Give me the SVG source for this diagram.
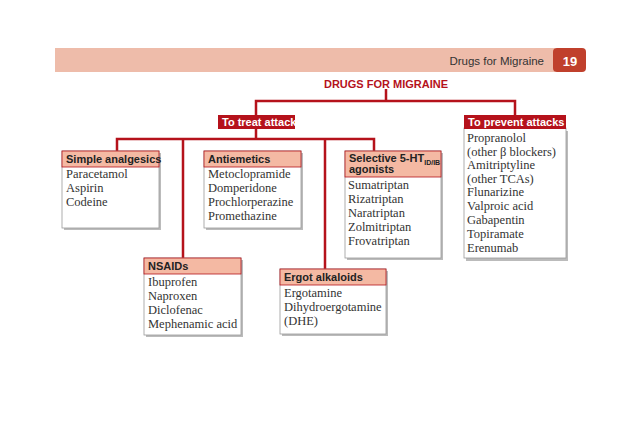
<svg xmlns="http://www.w3.org/2000/svg" width="638" height="430" viewBox="0 0 638 430">
<style>
.hd{font-family:"Liberation Sans",Arial,sans-serif;font-weight:bold;font-size:11px;fill:#222}
.it{font-family:"Liberation Serif","Times New Roman",serif;font-size:12.5px;fill:#333}
.box{fill:#fff;stroke:#999;stroke-width:0.8}
.sh{fill:#bbb}
.hb{fill:#f4b9a3;stroke:#b5121b;stroke-width:0.8}
.red{fill:#b5121b}
.ln{stroke:#b5121b;stroke-width:2.5;fill:none}
.wt{font-family:"Liberation Sans",Arial,sans-serif;font-weight:bold;font-size:11px;fill:#fff}
</style>
<rect width="638" height="430" fill="#fff"/>
<g id="header">
<rect x="55" y="48" width="500" height="24" fill="#eebcaa"/>
<rect x="553" y="48" width="33" height="24" rx="4" fill="#c0402c"/>
<text x="544" y="65" text-anchor="end" font-family="Liberation Sans,Arial,sans-serif" font-size="11.5" fill="#333">Drugs for Migraine</text>
<text x="570" y="66" text-anchor="middle" font-family="Liberation Sans,Arial,sans-serif" font-weight="bold" font-size="13" fill="#fff">19</text>
</g>
<g id="connectors">
<path class="ln" d="M386 89V101M256 115V101H515V115"/>
<path class="ln" d="M256 128V139M117 151V139H374V151M183 139V258M325 139V269"/>
</g>
<g id="title"><text x="386" y="88" text-anchor="middle" font-family="Liberation Sans,Arial,sans-serif" font-weight="bold" font-size="11" fill="#b5121b">DRUGS FOR MIGRAINE</text></g>
<g id="treat"><rect class="red" x="218" y="115" width="77" height="14"/><text class="wt" x="222" y="126">To treat attacks</text></g>
<g id="prevent">
<rect class="sh" x="466" y="131" width="102" height="130"/>
<rect class="box" x="464" y="128" width="102" height="130"/>
<rect class="red" x="464" y="115" width="102" height="14"/><text class="wt" x="468" y="126">To prevent attacks</text>
<text class="it" x="467" y="142">Propranolol</text>
<text class="it" x="467" y="156"> (other β blockers)</text>
<text class="it" x="467" y="169">Amitriptyline</text>
<text class="it" x="467" y="183"> (other TCAs)</text>
<text class="it" x="467" y="196">Flunarizine</text>
<text class="it" x="467" y="210">Valproic acid</text>
<text class="it" x="467" y="224">Gabapentin</text>
<text class="it" x="467" y="238">Topiramate</text>
<text class="it" x="467" y="252">Erenumab</text>
</g>
<g id="simple">
<rect class="sh" x="64" y="153" width="97" height="77"/>
<rect class="box" x="62" y="151" width="97" height="77"/>
<rect class="hb" x="62" y="151" width="97" height="16"/>
<text class="hd" x="66" y="163">Simple analgesics</text>
<text class="it" x="66" y="178">Paracetamol</text>
<text class="it" x="66" y="192">Aspirin</text>
<text class="it" x="66" y="206">Codeine</text>
</g>
<g id="antiemetics">
<rect class="sh" x="206" y="153" width="97" height="77"/>
<rect class="box" x="204" y="151" width="97" height="77"/>
<rect class="hb" x="204" y="151" width="97" height="16"/>
<text class="hd" x="208" y="163">Antiemetics</text>
<text class="it" x="208" y="178">Metoclopramide</text>
<text class="it" x="208" y="192">Domperidone</text>
<text class="it" x="208" y="206">Prochlorperazine</text>
<text class="it" x="208" y="220">Promethazine</text>
</g>
<g id="selective">
<rect class="sh" x="347" y="153" width="96" height="107"/>
<rect class="box" x="345" y="151" width="96" height="107"/>
<rect class="hb" x="345" y="151" width="96" height="26"/>
<text class="hd" x="349" y="162">Selective 5-HT<tspan font-size="7" dy="3">ID/IB</tspan></text>
<text class="hd" x="349" y="173">agonists</text>
<text class="it" x="348" y="189">Sumatriptan</text>
<text class="it" x="348" y="203">Rizatriptan</text>
<text class="it" x="348" y="217">Naratriptan</text>
<text class="it" x="348" y="231">Zolmitriptan</text>
<text class="it" x="348" y="245">Frovatriptan</text>
</g>
<g id="nsaids">
<rect class="sh" x="146" y="260" width="97" height="77"/>
<rect class="box" x="144" y="258" width="97" height="77"/>
<rect class="hb" x="144" y="258" width="97" height="16"/>
<text class="hd" x="148" y="270">NSAIDs</text>
<text class="it" x="148" y="286">Ibuprofen</text>
<text class="it" x="148" y="300">Naproxen</text>
<text class="it" x="148" y="314">Diclofenac</text>
<text class="it" x="148" y="328">Mephenamic acid</text>
</g>
<g id="ergot">
<rect class="sh" x="282" y="271" width="106" height="65"/>
<rect class="box" x="280" y="269" width="106" height="65"/>
<rect class="hb" x="280" y="269" width="106" height="16"/>
<text class="hd" x="284" y="281">Ergot alkaloids</text>
<text class="it" x="284" y="297">Ergotamine</text>
<text class="it" x="284" y="311">Dihydroergotamine</text>
<text class="it" x="284" y="325">  (DHE)</text>
</g>
</svg>
